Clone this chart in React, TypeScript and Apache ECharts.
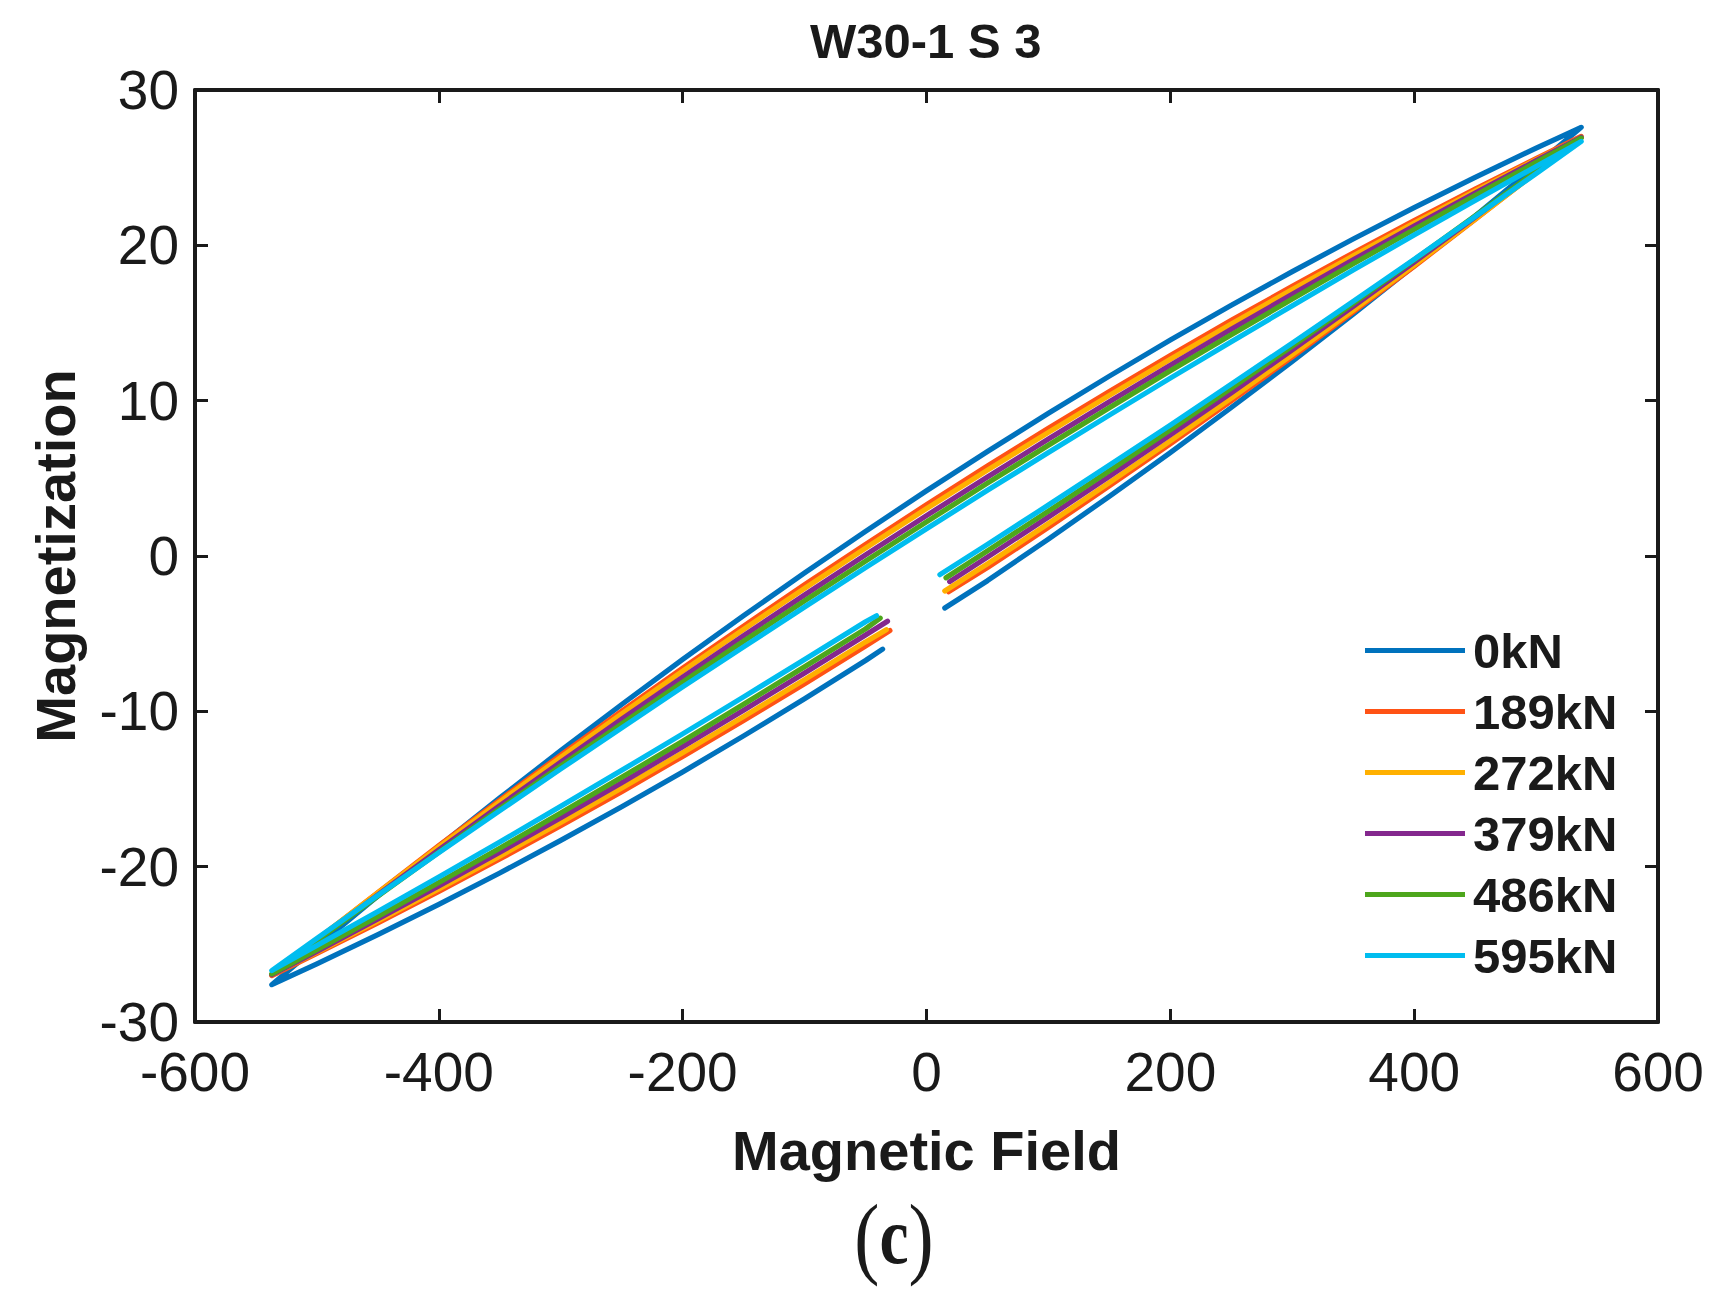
import React, { useEffect, useRef } from "react";
import * as echarts from "echarts";

// ---- axis ticks ----
const xTicks = [-600, -400, -200, 0, 200, 400, 600];
const yTicks = [-30, -20, -10, 0, 10, 20, 30];

// ---- field grids (A/m) ----
const fieldDesc = [537, 500, 450, 400, 350, 300, 250, 200, 150, 100, 50, 0, -50, -100, -150, -200, -250, -300, -350, -400, -450, -500, -537];
const fieldAscLeft = [-500, -450, -400, -350, -300, -250, -200, -150, -100, -50];
const fieldAscRight = [50, 100, 150, 200, 250, 300, 350, 400, 450, 500];

// ---- series labels & colours ----
const loadLabels = ["0kN", "189kN", "272kN", "379kN", "486kN", "595kN"];
const loadColors = ["#0072BD", "#FF5215", "#FFB000", "#84288E", "#4DA61C", "#00BDEF"];

// ---- 0kN ----
const start0 = [15, -3.35];
const ascR0 = [-1.59, 1.09, 3.84, 6.66, 9.56, 12.53, 15.57, 18.69, 21.88, 25.14];
const desc0 = [27.6, 26.26, 24.38, 22.43, 20.41, 18.31, 16.14, 13.9, 11.58, 9.19, 6.73, 4.2, 1.59, -1.09, -3.84, -6.66, -9.56, -12.53, -15.57, -18.69, -21.88, -25.14, -27.6];
const ascL0 = [-26.26, -24.38, -22.43, -20.41, -18.31, -16.14, -13.9, -11.58, -9.19, -6.73];
const end0 = [-36, -6.0];

// ---- 189kN ----
const start189 = [18, -2.3];
const ascR189 = [-0.75, 1.84, 4.51, 7.22, 9.99, 12.82, 15.71, 18.65, 21.66, 24.71];
const desc189 = [27.01, 25.59, 23.62, 21.59, 19.51, 17.36, 15.17, 12.9, 10.59, 8.22, 5.79, 3.3, 0.75, -1.84, -4.51, -7.22, -9.99, -12.82, -15.71, -18.65, -21.66, -24.71, -27.01];
const ascL189 = [-25.59, -23.62, -21.59, -19.51, -17.36, -15.17, -12.9, -10.59, -8.22, -5.79];
const end189 = [-30, -4.8];

// ---- 272kN ----
const start272 = [15, -2.25];
const ascR272 = [-0.51, 2.08, 4.72, 7.41, 10.16, 12.96, 15.82, 18.72, 21.68, 24.69];
const desc272 = [26.96, 25.51, 23.5, 21.44, 19.32, 17.16, 14.94, 12.67, 10.34, 7.96, 5.53, 3.05, 0.51, -2.08, -4.72, -7.41, -10.16, -12.96, -15.82, -18.72, -21.68, -24.69, -26.96];
const ascL272 = [-25.51, -23.5, -21.44, -19.32, -17.16, -14.94, -12.67, -10.34, -7.96, -5.53];
const end272 = [-33, -4.75];

// ---- 379kN ----
const start379 = [19, -1.65];
const ascR379 = [-0.07, 2.51, 5.13, 7.8, 10.51, 13.27, 16.07, 18.92, 21.82, 24.75];
const desc379 = [26.96, 25.45, 23.36, 21.24, 19.07, 16.85, 14.59, 12.28, 9.93, 7.53, 5.09, 2.6, 0.07, -2.51, -5.13, -7.8, -10.51, -13.27, -16.07, -18.92, -21.82, -24.75, -26.96];
const ascL379 = [-25.45, -23.36, -21.24, -19.07, -16.85, -14.59, -12.28, -9.93, -7.53, -5.09];
const end379 = [-32, -4.2];

// ---- 486kN ----
const start486 = [16, -1.4];
const ascR486 = [0.33, 2.89, 5.49, 8.12, 10.81, 13.52, 16.27, 19.06, 21.89, 24.76];
const desc486 = [26.9, 25.34, 23.21, 21.02, 18.81, 16.54, 14.25, 11.92, 9.55, 7.13, 4.69, 2.2, -0.33, -2.89, -5.49, -8.12, -10.81, -13.52, -16.27, -19.06, -21.89, -24.76, -26.9];
const ascL486 = [-25.34, -23.21, -21.02, -18.81, -16.54, -14.25, -11.92, -9.55, -7.13, -4.69];
const end486 = [-38, -4.0];

// ---- 595kN ----
const start595 = [11, -1.2];
const ascR595 = [0.75, 3.28, 5.85, 8.43, 11.06, 13.71, 16.39, 19.1, 21.85, 24.62];
const desc595 = [26.69, 25.08, 22.89, 20.66, 18.41, 16.11, 13.8, 11.45, 9.07, 6.66, 4.23, 1.75, -0.75, -3.28, -5.85, -8.43, -11.06, -13.71, -16.39, -19.1, -21.85, -24.62, -26.69];
const ascL595 = [-25.08, -22.89, -20.66, -18.41, -16.11, -13.8, -11.45, -9.07, -6.66, -4.23];
const end595 = [-41, -3.85];

function buildLoop(start: number[], ascR: number[], desc: number[], ascL: number[], end: number[]) {
  const pts: number[][] = [];
  pts.push(start);
  fieldAscRight.forEach((h, i) => pts.push([h, ascR[i]]));
  fieldDesc.forEach((h, i) => pts.push([h, desc[i]]));
  fieldAscLeft.forEach((h, i) => pts.push([h, ascL[i]]));
  pts.push(end);
  return pts;
}

const loops = [
  buildLoop(start0, ascR0, desc0, ascL0, end0),
  buildLoop(start189, ascR189, desc189, ascL189, end189),
  buildLoop(start272, ascR272, desc272, ascL272, end272),
  buildLoop(start379, ascR379, desc379, ascL379, end379),
  buildLoop(start486, ascR486, desc486, ascL486, end486),
  buildLoop(start595, ascR595, desc595, ascL595, end595),
];

const FONT = "'Liberation Sans', Arial, Helvetica, sans-serif";
const SERIF = "'Liberation Serif', 'DejaVu Serif', serif";
const INK = "#1a1a1a";

export default function App() {
  const ref = useRef<HTMLDivElement>(null);
  useEffect(() => {
    document.body.style.margin = "0";
    if (!ref.current) return;
    const chart = echarts.init(ref.current, null, { renderer: "svg" });

    const axisLine = { show: true, onZero: false, lineStyle: { color: INK, width: 4 } };
    const axisTick = { show: true, inside: true, length: 13, lineStyle: { color: INK, width: 3 } };

    const option: any = {
      animation: false,
      backgroundColor: "#ffffff",
      title: {
        text: "W30-1 S 3",
        left: 810,
        top: 16,
        padding: 0,
        textStyle: { fontFamily: FONT, fontSize: 49, fontWeight: "bold", color: INK },
      },
      grid: { left: 195, right: 60, top: 90, bottom: 274, containLabel: false },
      legend: {
        orient: "vertical",
        left: 1365,
        top: 626,
        padding: 0,
        itemGap: 12,
        itemWidth: 100,
        itemHeight: 5,
        icon: "rect",
        selectedMode: false,
        data: loadLabels,
        textStyle: { fontFamily: FONT, fontSize: 49, fontWeight: "bold", color: INK, lineHeight: 49, padding: [0, 0, 0, 3] },
      },
      xAxis: [
        {
          type: "value",
          min: -600,
          max: 600,
          interval: 200,
          position: "bottom",
          name: "Magnetic Field",
          nameLocation: "middle",
          nameGap: 100,
          nameTextStyle: { fontFamily: FONT, fontSize: 56, fontWeight: "bold", color: INK },
          axisLine,
          axisTick,
          splitLine: { show: false },
          axisLabel: {
            fontFamily: FONT,
            fontSize: 55,
            color: INK,
            margin: 22,
            formatter: (v: number) => (xTicks.includes(v) ? String(v) : ""),
          },
        },
        {
          type: "value",
          min: -600,
          max: 600,
          interval: 200,
          position: "top",
          axisLine,
          axisTick,
          splitLine: { show: false },
          axisLabel: { show: false },
        },
      ],
      yAxis: [
        {
          type: "value",
          min: -30,
          max: 30,
          interval: 10,
          position: "left",
          name: "Magnetization",
          nameLocation: "middle",
          nameGap: 112,
          nameTextStyle: { fontFamily: FONT, fontSize: 56, fontWeight: "bold", color: INK },
          axisLine,
          axisTick,
          splitLine: { show: false },
          axisLabel: {
            fontFamily: FONT,
            fontSize: 55,
            color: INK,
            margin: 16,
            formatter: (v: number) => (yTicks.includes(v) ? String(v) : ""),
          },
        },
        {
          type: "value",
          min: -30,
          max: 30,
          interval: 10,
          position: "right",
          axisLine,
          axisTick,
          splitLine: { show: false },
          axisLabel: { show: false },
        },
      ],
      series: loops.map((pts, i) => ({
        name: loadLabels[i],
        type: "line",
        xAxisIndex: 0,
        yAxisIndex: 0,
        data: pts,
        showSymbol: false,
        symbol: "none",
        clip: false,
        color: loadColors[i],
        lineStyle: { color: loadColors[i], width: 5.2, cap: "round", join: "round" },
        z: 2 + i,
      })),
      graphic: [
        {
          type: "text",
          x: 894,
          y: 1236,
          scaleX: 0.82,
          originX: 0,
          originY: 0,
          style: {
            text: "({b|c})",
            x: 0,
            y: 0,
            fontFamily: SERIF,
            fontSize: 92,
            fill: INK,
            align: "center",
            verticalAlign: "middle",
            rich: { b: { fontWeight: "bold", fontSize: 80, fontFamily: SERIF } },
          },
        },
      ],
    };
    chart.setOption(option);
    return () => chart.dispose();
  }, []);
  return <div ref={ref} style={{ width: 1718, height: 1296 }} />;
}
